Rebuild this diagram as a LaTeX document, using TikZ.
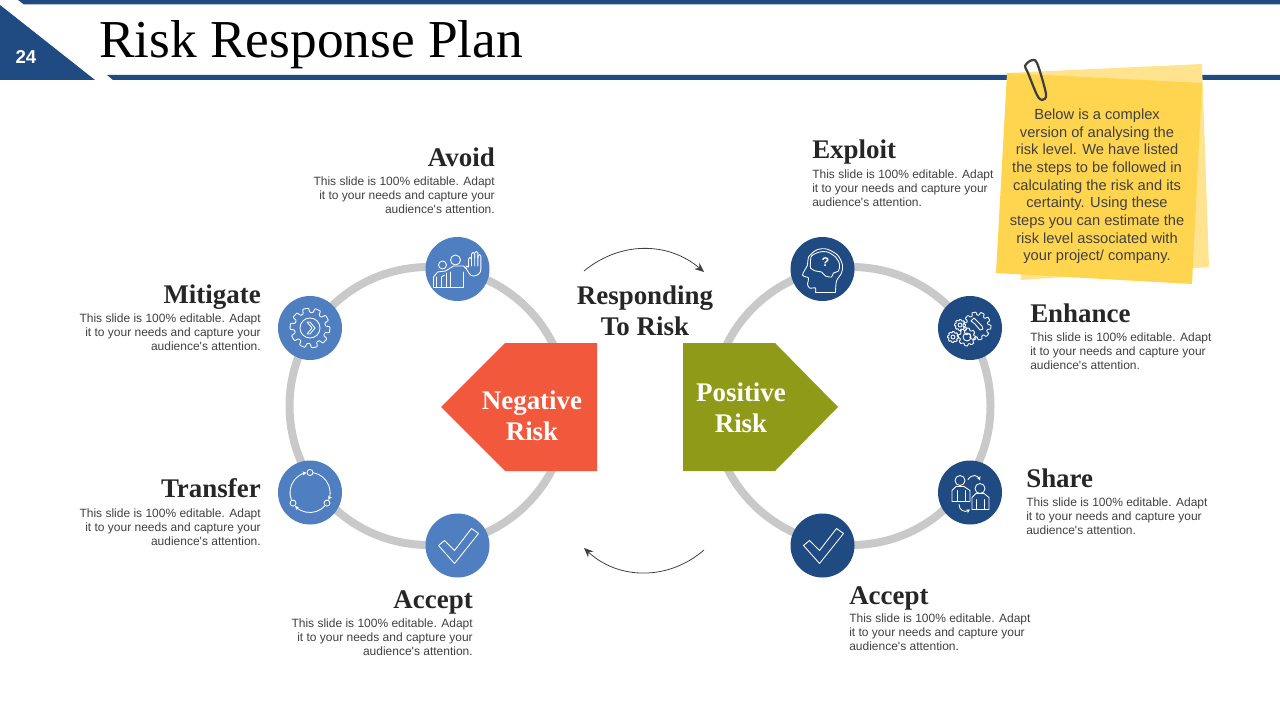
\documentclass[tikz,border=0pt]{standalone}
\usepackage{fontspec}
\setmainfont{Liberation Serif}
\newfontfamily\arialfont{Liberation Sans}
\usetikzlibrary{arrows.meta,calc}

\definecolor{navyblue}{HTML}{1F4A82}
\definecolor{midblue}{HTML}{4F7FC0}
\definecolor{ringgrey}{HTML}{C9C9C9}
\definecolor{negred}{HTML}{F2583C}
\definecolor{posolive}{HTML}{8F9A18}
\definecolor{notedark}{HTML}{FFD550}
\definecolor{notelight}{HTML}{FFE38F}
\definecolor{textgrey}{HTML}{404040}

\newcommand{\editnote}{This slide is 100\% editable. Adapt\\it to your needs and capture your\\audience's attention.}
\newcommand{\gearline}[4]{% centre x, centre y, radius, teeth
	\pgfmathsetmacro{\gearstep}{360/#4}
	\draw [rounded corners=0.5pt] ($(#1,#2)+(0:#3)$)
		\foreach \g in {1,...,#4} {
			-- ($(#1,#2)+(\g*\gearstep-0.62*\gearstep:#3)$)
			-- ($(#1,#2)+(\g*\gearstep-0.52*\gearstep:0.78*#3)$)
			-- ($(#1,#2)+(\g*\gearstep-0.20*\gearstep:0.78*#3)$)
			-- ($(#1,#2)+(\g*\gearstep-0.10*\gearstep:#3)$)
			-- ($(#1,#2)+(\g*\gearstep:#3)$)
		} -- cycle;
}

\tikzset{
	headtext/.style={font=\bfseries\fontsize{20.2}{23}\selectfont,text=black!85,inner sep=0pt},
	bodytext/.style={font=\arialfont\fontsize{9}{10.5}\selectfont,text=textgrey,inner sep=0pt},
	ringshape/.style={circle,draw=ringgrey,line width=6pt,minimum size=208.5pt,inner sep=0pt},
	lightdisc/.style={circle,fill=midblue,minimum size=48pt,inner sep=0pt},
	darkdisc/.style={circle,fill=navyblue,minimum size=48pt,inner sep=0pt},
	iconline/.style={draw=white,line width=0.65pt,line join=round,line cap=round},
	icontip/.style={-{Stealth[length=3pt,width=3pt]}},
	turnarrow/.style={draw=textgrey,line width=0.6pt,-{Stealth[length=7pt,width=6pt]}},
	risktext/.style={font=\bfseries\fontsize{20.2}{23}\selectfont,align=center,inner sep=0pt}
}

\begin{document}
\begin{tikzpicture}[x=0.75pt,y=-0.75pt]
	\useasboundingbox (0,0) rectangle (1280,720);

	\fill [navyblue] (18,0)--(1280,0)--(1280,4.5)--(24,4.5)--cycle;
	\fill [navyblue] (107,75)--(1280,75)--(1280,80)--(113,80)--cycle;
	\fill [navyblue] (0,5)--(95,80)--(0,80)--cycle;
	\node (pagenumber) at (26,57) [font=\arialfont\bfseries\fontsize{14}{16}\selectfont,text=white,inner sep=0pt] {24};
	\node (slidetitle) at (99,58) [anchor=base west,font=\fontsize{40}{46}\selectfont,text=black,inner sep=0pt] {Risk Response Plan};

	\node (leftring) at (428.5,406) [ringshape] {};
	\node (rightring) at (851.5,406) [ringshape] {};

	\fill [negred] (597,343)--(505,343)--(441,407)--(505,471)--(597,471)--cycle;
	\fill [posolive] (683,343)--(775,343)--(838,407)--(775,471)--(683,471)--cycle;
	\node (negativerisk) at (532,416) [risktext,text=white] {Negative\\Risk};
	\node (positiverisk) at (741,408) [risktext,text=white] {Positive\\Risk};
	\node (responding) at (645,311) [risktext,text=black!85] {Responding\\To Risk};

	\coordinate (topstart) at (584,271);
	\coordinate (topend) at (704,272);
	\coordinate (lowstart) at (704,550);
	\coordinate (lowend) at (584,548);
	\draw [turnarrow] (topstart) to [bend left=40] (topend);
	\draw [turnarrow] (lowstart) to [bend left=42] (lowend);

	% discs
	\node (avoiddisc) at (457.5,269) [lightdisc] {};
	\node (mitigatedisc) at (310,328) [lightdisc] {};
	\node (transferdisc) at (310,492.5) [lightdisc] {};
	\node (acceptleftdisc) at (457.5,545.5) [lightdisc] {};
	\node (exploitdisc) at (822.5,269) [darkdisc] {};
	\node (enhancedisc) at (970,328) [darkdisc] {};
	\node (sharedisc) at (970,492.5) [darkdisc] {};
	\node (acceptrightdisc) at (822.5,545.5) [darkdisc] {};

	% avoid
	\begin{scope}[shift={(avoiddisc.center)},iconline]
		\draw (-2,-9) circle (5);
		\draw (-15,-4) circle (4);
		\draw (-24,18)--(-24,8)--(-20,3)--(-12,2)--(-4,-3)--(6,-3)--(9,0);
		\draw (-11,18)--(6,18)--(6,3);
		\draw (-11,18)--(-11,4);
		\draw (-24,18)--(-11,18);
		\draw (-21,18)--(-21,8);
		\draw (-16,18)--(-16,8)--(-13,6);
		\draw (-7,18)--(-7,3);
		\draw (11,-2)--(11,-10) arc (180:360:1.5)--(14,-3);
		\draw (14,-10)--(14,-15) arc (180:360:1.6)--(17.2,-3);
		\draw (17.2,-11)--(17.2,-16) arc (180:360:1.6)--(20.4,-3);
		\draw (20.4,-11)--(20.4,-13) arc (180:360:1.5)--(23.4,0) .. controls (23.4,5) and (19,7) .. (16,7) .. controls (12,7) and (11,3) .. (9,0) .. controls (7,-3) and (10,-4) .. (11,-2);
	\end{scope}

	% mitigate
	\begin{scope}[shift={(mitigatedisc.center)},iconline]
		\gearline{0}{0}{20}{10}
		\draw (0,0) circle (10);
		\draw (-3,-6)--(0,-6)--(5,0)--(0,6)--(-3,6)--(2,0)--cycle;
	\end{scope}

	% transfer
	\begin{scope}[shift={(transferdisc.center)},iconline]
		\draw (-90:20) circle (3);
		\draw (32:20) circle (3);
		\draw (148:20) circle (3);
		\draw [icontip] (-80:20) arc (-80:22:20);
		\draw [icontip] (42:20) arc (42:138:20);
		\draw [icontip] (158:20) arc (158:260:20);
	\end{scope}

	% accept left
	\begin{scope}[shift={(acceptleftdisc.center)},iconline]
		\draw (-19,0)--(-3,18)--(21,-12)--(14,-17)--(-3,5)--(-13,-5)--cycle;
	\end{scope}

	% exploit
	\begin{scope}[shift={(exploitdisc.center)},iconline]
		\draw plot [smooth] coordinates {(-7,23) (-7,19) (-13,19) (-15,15) (-14,9) (-20,6) (-15,-4) (-14,-12) (-6,-19) (4,-20) (15,-14) (20,-4) (19,4) (14,12) (13,23)};
		\draw (-7,23)--(13,23);
		\draw plot [smooth] coordinates {(-12,-6) (-11,-13) (-3,-17) (5,-17) (13,-12) (17,-5) (16,2) (11,4) (9,8) (3,7) (-1,3) (-7,2) (-12,-1) (-12,-6)};
		\node (brainmark) at (3,-7) [font=\arialfont\bfseries\fontsize{9.5}{10}\selectfont,text=white,inner sep=0pt] {?};
	\end{scope}

	% enhance
	\begin{scope}[shift={(enhancedisc.center)},iconline]
		\gearline{7}{-2}{14}{10}
		\gearline{-3}{9}{9}{8}
		\gearline{-10}{-3}{5.5}{8}
		\gearline{-17}{9}{5.5}{8}
		\draw (-3,9) circle (4);
		\draw (-10,-3) circle (2);
		\draw (-17,9) circle (2);
		\draw (1,-7)--(5,-4)--(10,2)--(13,1)--(12,-2)--(8,-6)--(4,-10)--cycle;
	\end{scope}

	% share
	\begin{scope}[shift={(sharedisc.center)},iconline]
		\draw (-10,-12) circle (5);
		\draw (10,-4) circle (5);
		\draw (-13,9)--(-13,-2) (-5,9)--(-5,-2);
		\draw (-18,9)--(-18,-2)--(-14,-6)--(-6,-6)--(0,-2)--(0,9)--(-18,9);
		\draw (2,17)--(2,5)--(6,1)--(14,1)--(19,5)--(19,17)--cycle;
		\draw (6,17)--(6,7) (14,17)--(14,7);
		\draw [icontip] (-2,-13) .. controls (2,-19) and (8,-17) .. (10,-12);
		\draw [icontip] (-11,12) .. controls (-11,18) and (-5,20) .. (0,17);
	\end{scope}

	% accept right
	\begin{scope}[shift={(acceptrightdisc.center)},iconline]
		\draw (-19,0)--(-3,18)--(21,-12)--(14,-17)--(-3,5)--(-13,-5)--cycle;
	\end{scope}

	\node (avoidhead) at (495,167) [headtext,anchor=base east] {Avoid};
	\node (avoidbody) at (495,177) [bodytext,anchor=north east,align=right] {\editnote};
	\node (mitigatehead) at (261,303) [headtext,anchor=base east] {Mitigate};
	\node (mitigatebody) at (261,314) [bodytext,anchor=north east,align=right] {\editnote};
	\node (transferhead) at (261,497) [headtext,anchor=base east] {Transfer};
	\node (transferbody) at (261,509) [bodytext,anchor=north east,align=right] {\editnote};
	\node (acceptlefthead) at (473,608) [headtext,anchor=base east] {Accept};
	\node (acceptleftbody) at (473,619) [bodytext,anchor=north east,align=right] {\editnote};
	\node (exploithead) at (812,159) [headtext,anchor=base west] {Exploit};
	\node (exploitbody) at (812,170) [bodytext,anchor=north west,align=left] {\editnote};
	\node (enhancehead) at (1030,322) [headtext,anchor=base west] {Enhance};
	\node (enhancebody) at (1030,333) [bodytext,anchor=north west,align=left] {\editnote};
	\node (sharehead) at (1026,487) [headtext,anchor=base west] {Share};
	\node (sharebody) at (1026,498) [bodytext,anchor=north west,align=left] {\editnote};
	\node (acceptrighthead) at (849,604) [headtext,anchor=base west] {Accept};
	\node (acceptrightbody) at (849,614) [bodytext,anchor=north west,align=left] {\editnote};

	% note
	\fill [notelight] (1007,73)--(1202,64)--(1209,267)--(1021,280)--cycle;
	\fill [notedark] (1007,73)--(1202,83)--(1192,284)--(996,273)--cycle;
	\draw [textgrey,line width=1.7pt] plot [smooth cycle] coordinates {(1025,66) (1031,60.5) (1037,63) (1046,94) (1042,100) (1037,95) (1028,73)};
	\node (notetext) at (1097,186.5) [font=\arialfont\fontsize{11}{13.25}\selectfont,text=textgrey,align=center,inner sep=0pt] {Below is a complex\\version of analysing the\\risk level. We have listed\\the steps to be followed in\\calculating the risk and its\\certainty. Using these\\steps you can estimate the\\risk level associated with\\your project/ company.};
\end{tikzpicture}
\end{document}
